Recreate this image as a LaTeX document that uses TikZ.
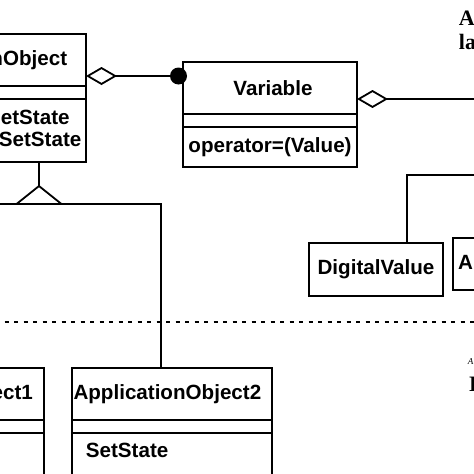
\documentclass[tikz,border=0pt]{standalone}
\usepackage{fontspec}
\setmainfont{Liberation Serif}
\setsansfont{Liberation Sans}
\usetikzlibrary{positioning,arrows.meta}
\newcommand{\umlfont}{\sffamily\bfseries\fontsize{20.6}{24}\selectfont}
\newcommand{\capfont}{\rmfamily\bfseries\fontsize{22}{24}\selectfont}
\begin{document}
\begin{tikzpicture}[x=1pt, y=-1pt, line width=1.8pt,
    cls/.style={draw, outer sep=0pt, inner sep=0pt, font=\umlfont},
    op/.style={inner sep=0pt, font=\umlfont},
    caption/.style={anchor=base west, inner sep=0pt, font=\capfont},
    aggr/.style={{Diamond[open, length=31pt, width=18pt]}-},
    layer/.style={line width=1.4pt, dash pattern=on 4pt off 5.5pt}]
    \useasboundingbox (0,0) rectangle (474,474);
    \clip (0,0) rectangle (474,474);
    % base class
    \node[cls, minimum width=214pt, minimum height=52pt] (objname) at (-21,60) {ApplicationObject};
    \node[cls, minimum width=214pt, minimum height=13pt, below=0pt of objname] (objattr) {};
    \node[cls, minimum width=214pt, minimum height=63pt, below=0pt of objattr] (objmeth) {};
    \node[op, anchor=west] (getstate) at (-16,117) {GetState};
    \node[op, anchor=west] (setstate) at (-2,139) {SetState};
    % variable
    \node[cls, minimum width=174pt, minimum height=52pt] (varname) at (270,88) {\hspace{6pt}Variable};
    \node[cls, minimum width=174pt, minimum height=13pt, below=0pt of varname] (varattr) {};
    \node[cls, minimum width=174pt, minimum height=40pt, below=0pt of varattr] (varmeth) {operator=(Value)};
    \coordinate (joint) at ([xshift=-4.5pt, yshift=-14pt]varname.north west);
    \draw[aggr] ([yshift=10pt]objname.south east) -- (joint);
    \fill (joint) circle [radius=8.5pt];
    \coordinate (valuebase) at (480,99);
    \draw[aggr] (varname.east |- valuebase) -- (valuebase);
    % values
    \node[cls, minimum width=134pt, minimum height=53pt] (digital) at (376,269.5) {DigitalValue};
    \node[cls, minimum width=134pt, minimum height=52pt] (analog) at (520,264) {AnalogValue};
    \coordinate (valuefork) at (407,175);
    \draw (digital.north -| valuefork) -- (valuefork) -- (valuefork -| valuebase);
    % layer border
    \draw[layer] (-5,322) -- (480,322);
    % derived classes
    \node[cls, minimum width=210pt, minimum height=52pt] (app1name) at (-61,394) {ApplicationObject1};
    \node[cls, minimum width=210pt, minimum height=13pt, below=0pt of app1name] (app1attr) {};
    \node[cls, minimum width=210pt, minimum height=60pt, below=0pt of app1attr] (app1meth) {};
    \node[cls, minimum width=200pt, minimum height=52pt, text width=197pt, inner xsep=1.5pt, align=left] (app2name) at (172,394) {ApplicationObject2};
    \node[cls, minimum width=200pt, minimum height=13pt, below=0pt of app2name] (app2attr) {};
    \node[cls, minimum width=200pt, minimum height=60pt, below=0pt of app2attr] (app2meth) {};
    \node[op, anchor=west] (app2set) at ([xshift=13pt, yshift=-17pt]app2attr.south west) {SetState};
    % inheritance
    \coordinate (apex) at (39,186);
    \coordinate (bus) at (161,204);
    \draw (objmeth.south -| apex) -- (apex);
    \draw (apex) -- ++(-22.5,18) -- ++(45,0) -- cycle;
    \draw (app1name.north) |- (bus) -- (bus |- app2name.north);
    % captions
    \node[caption] (capA) at (458,25) {A};
    \node[caption] (capla) at (458,49) {la};
    \node[caption, font=\rmfamily\itshape\fontsize{9}{10}\selectfont] (capsmall) at (467,364) {A};
    \node[caption] (capI) at (468,391) {I};
\end{tikzpicture}
\end{document}
